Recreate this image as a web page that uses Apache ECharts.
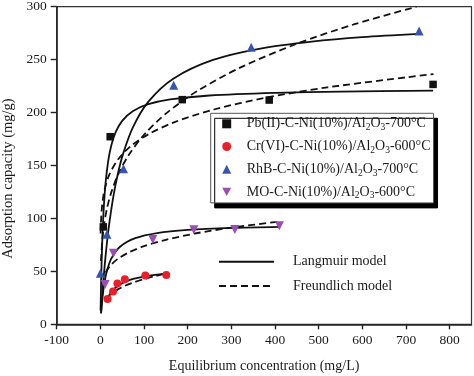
<!DOCTYPE html>
<html>
<head>
<meta charset="utf-8">
<script src="https://cdn.jsdelivr.net/npm/echarts@6/dist/echarts.min.js"></script>
<style>
html,body{margin:0;padding:0;background:#fff;}
#chart{width:474px;height:376px;}
</style>
</head>
<body>
<div id="chart"></div>
<script>
// Axis ticks
const xMin = -100, xMax = 850, xStep = 100;
const yMin = 0, yMax = 300, yStep = 50;
const xTitle = 'Equilibrium concentration (mg/L)';
const yTitle = 'Adsorption capacity (mg/g)';

// Series names
const seriesNames = [
  'Pb(II)-C-Ni(10%)/Al2O3-700°C',
  'Cr(VI)-C-Ni(10%)/Al2O3-600°C',
  'RhB-C-Ni(10%)/Al2O3-700°C',
  'MO-C-Ni(10%)/Al2O3-600°C'
];
const modelNames = ['Langmuir model', 'Freundlich model'];

// Experimental points
const pbC = [6.7, 22.5, 187.6, 386.7, 762];
const pbQ = [92, 177.2, 212.2, 211.8, 226.6];
const crC = [16.5, 29, 39, 56, 103, 151];
const crQ = [23.9, 31, 38.6, 42.5, 46.1, 46.6];
const rhbC = [0, 15, 53, 168, 345.5, 730];
const rhbQ = [48.3, 85, 147, 225.7, 261.6, 277];
const moC = [10.8, 30, 120, 214, 308, 410];
const moQ = [37.6, 67, 80, 89.2, 89.6, 93];

// Langmuir model curves
const pbLangC = [0.5, 1.5, 3, 5, 8, 12, 18, 25, 35, 50, 75, 110, 160, 250, 400, 550, 762];
const pbLangQ = [13.1, 35.2, 60.8, 85.8, 111.5, 133.8, 154.4, 168.9, 181.5, 192.2, 201.5, 207.9, 212.4, 216.1, 218.6, 219.8, 220.7];
const crLangC = [15, 20, 30, 40, 55, 75, 100, 125, 152];
const crLangQ = [23.4, 27.3, 32.7, 36.2, 39.8, 42.8, 45.1, 46.7, 47.8];
const rhbLangC = [1.6, 5, 10, 15, 20, 30, 40, 52, 75, 110, 167, 258, 373, 484, 600, 730];
const rhbLangQ = [10.7, 31.1, 56.1, 76.8, 94.1, 121.4, 142, 161, 186.4, 210.3, 232, 249.7, 260.9, 267, 271.2, 274.3];
const moLangC = [1.6, 5, 10, 15, 25, 45, 80, 130, 200, 300, 411];
const moLangQ = [10.2, 25.9, 40.7, 50.3, 62, 73.3, 81.4, 86.2, 89.1, 91, 92];

// Freundlich model curves
const pbFreuC = [0.6, 1.5, 3, 6, 10, 20, 40, 70, 110, 170, 260, 380, 520, 763];
const pbFreuQ = [85.7, 97.6, 107.6, 118.8, 127.7, 140.9, 155.5, 168.4, 179.5, 191, 202.9, 214.1, 223.8, 236.4];
const crFreuC = [15, 20, 30, 40, 55, 75, 100, 125, 152];
const crFreuQ = [25, 27.1, 30.4, 33, 36.1, 39.4, 42.7, 45.5, 48.1];
const rhbFreuC = [1.5, 4, 8, 15, 25, 40, 65, 100, 150, 220, 320, 450, 580, 724];
const rhbFreuQ = [59.8, 77.3, 92.6, 109.1, 124.6, 140.9, 159.9, 179, 199, 219.8, 242.4, 265, 283.2, 300];
const moFreuC = [12, 15, 25, 40, 65, 100, 150, 220, 300, 411];
const moFreuQ = [48.9, 51.1, 56.4, 61.8, 67.9, 73.8, 79.8, 86, 91.3, 97.1];

const zip = (a, b) => a.map((v, i) => [v, b[i]]);
const FONT = '"Liberation Serif", "Times New Roman", serif';

const pointDefs = [
  {name: seriesNames[0], c: pbC, q: pbQ, symbol: 'rect', size: 7.5, color: '#111111'},
  {name: seriesNames[1], c: crC, q: crQ, symbol: 'circle', size: 8, color: '#e8202c'},
  {name: seriesNames[2], c: rhbC, q: rhbQ, symbol: 'triangle', size: 9, color: '#3656ad'},
  {name: seriesNames[3], c: moC, q: moQ, symbol: 'path://M0,0 L10,0 L5,9 Z', size: 9, color: '#9a4db3'}
];
const langDefs = [[pbLangC, pbLangQ], [crLangC, crLangQ], [rhbLangC, rhbLangQ], [moLangC, moLangQ]];
const freuDefs = [[pbFreuC, pbFreuQ], [crFreuC, crFreuQ], [rhbFreuC, rhbFreuQ], [moFreuC, moFreuQ]];

const series = [];
langDefs.forEach(d => series.push({
  name: modelNames[0], type: 'line', data: zip(d[0], d[1]), showSymbol: false, symbol: 'none',
  smooth: 0.3, lineStyle: {color: '#111', width: 1.8, type: 'solid'}, itemStyle: {color: '#111'}, z: 2, silent: true
}));
freuDefs.forEach(d => series.push({
  name: modelNames[1], type: 'line', data: zip(d[0], d[1]), showSymbol: false, symbol: 'none',
  smooth: 0.3, lineStyle: {color: '#111', width: 1.8, type: [7, 4]}, itemStyle: {color: '#111'}, z: 2, silent: true
}));
pointDefs.forEach(p => series.push({
  name: p.name, type: 'scatter', data: zip(p.c, p.q), symbol: p.symbol, symbolSize: p.size,
  itemStyle: {color: p.color, opacity: 1}, z: 5
}));

const chart = echarts.init(document.getElementById('chart'), null, {renderer: 'canvas'});
chart.setOption({
  animation: false,
  backgroundColor: '#ffffff',
  grid: {left: 56.7, right: 2.5, top: 6.7, bottom: 51.7, outerBoundsMode: 'none', containLabel: false,
         show: true, borderColor: '#333', borderWidth: 1.2, backgroundColor: 'transparent'},
  xAxis: {
    type: 'value', min: xMin, max: xMax, interval: xStep,
    name: xTitle, nameLocation: 'middle', nameGap: 35.5,
    nameTextStyle: {fontFamily: FONT, fontSize: 14, color: '#1a1a1a'},
    axisLine: {show: true, onZero: false, lineStyle: {color: '#222', width: 1.6}},
    axisTick: {show: true, inside: false, length: 5, lineStyle: {color: '#222', width: 1.4}},
    axisLabel: {fontFamily: FONT, fontSize: 13.5, color: '#1a1a1a', margin: 9, showMaxLabel: false},
    splitLine: {show: false}
  },
  yAxis: {
    type: 'value', min: yMin, max: yMax, interval: yStep,
    name: yTitle, nameLocation: 'middle', nameGap: 39,
    nameTextStyle: {fontFamily: FONT, fontSize: 14.5, color: '#1a1a1a', padding: [0, 26, 0, 0]},
    axisLine: {show: true, onZero: false, lineStyle: {color: '#222', width: 1.6}},
    axisTick: {show: true, inside: false, length: 6, lineStyle: {color: '#222', width: 1.4}},
    axisLabel: {fontFamily: FONT, fontSize: 13.5, color: '#1a1a1a', margin: 10},
    splitLine: {show: false}
  },
  legend: [
    {
      data: seriesNames, orient: 'vertical', left: 210.7, top: 113.3,
      padding: [3.5, 3, 2, 11.5], itemGap: 6.7, itemWidth: 9, itemHeight: 9,
      backgroundColor: '#ffffff', borderColor: '#555', borderWidth: 1,
      shadowColor: '#000', shadowBlur: 0, shadowOffsetX: 4, shadowOffsetY: 5,
      selectedMode: false,
      formatter: function (name) {
        const parts = name.split('Al2O3');
        return '{t|' + parts[0] + 'Al}{s|2}{t|O}{s|3}{t|' + parts[1] + '}';
      },
      textStyle: {
        fontFamily: FONT, fontSize: 14, color: '#1a1a1a', padding: [0, 0, 0, 10.5],
        rich: {
          t: {fontFamily: FONT, fontSize: 14, lineHeight: 18, color: '#1a1a1a'},
          s: {fontFamily: FONT, fontSize: 9.5, lineHeight: 9, verticalAlign: 'bottom', color: '#1a1a1a'}
        }
      }
    },
    {
      data: modelNames, orient: 'vertical', left: 218, top: 254.7,
      padding: 0, itemGap: 10.3, itemWidth: 55, itemHeight: 14,
      selectedMode: false,
      itemStyle: {opacity: 0},
      textStyle: {fontFamily: FONT, fontSize: 14, color: '#1a1a1a', padding: [0, 0, 0, 14]}
    }
  ],
  series: series
});
</script>
</body>
</html>
